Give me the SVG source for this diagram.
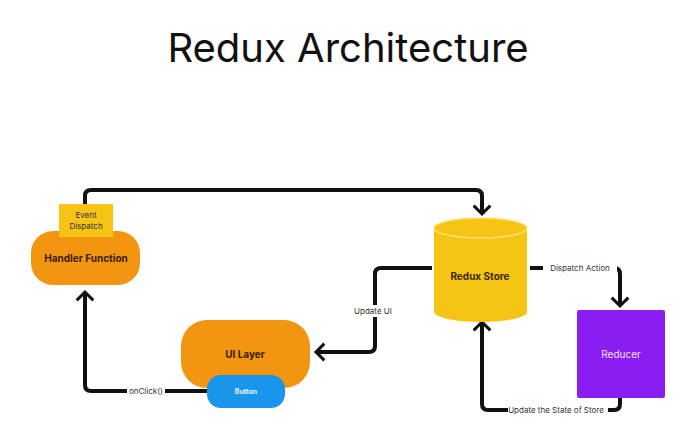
<svg xmlns="http://www.w3.org/2000/svg" width="680" height="438" viewBox="0 0 680 438">
<style>
.t{font-family:Inter,"Liberation Sans",sans-serif}
.c{fill:none;stroke:#111;stroke-width:4;stroke-linejoin:round}
.l{font-family:Inter,"Liberation Sans",sans-serif;font-size:8px;fill:#333;text-anchor:middle}
.b{font-family:Inter,"Liberation Sans",sans-serif;font-weight:bold;text-anchor:middle}
</style>
<defs><marker id="a" viewBox="0 0 12 12" refX="6" refY="6" markerWidth="5" markerHeight="5" orient="auto-start-reverse" markerUnits="strokeWidth"><path d="M1,1 L6,6 L1,11" fill="none" stroke="#111" stroke-width="1.8"/></marker></defs>
<rect width="680" height="438" fill="#fff"/>
<text x="348" y="62" font-size="40" text-anchor="middle" class="t" fill="#111">Redux Architecture</text>
<g id="connectors">
<path class="c" d="M85,206 V196 Q85,190 91,190 H476 Q482,190 482,196 V214" marker-end="url(#a)"/>
<path class="c" d="M530,268 H614 Q620,268 620,274 V306" marker-end="url(#a)"/>
<path class="c" d="M620,398 V404 Q620,410 614,410 H488 Q482,410 482,404 V322" marker-end="url(#a)"/>
<path class="c" d="M432,268 H381 Q375,268 375,274 V346 Q375,352 369,352 H316" marker-end="url(#a)"/>
<path class="c" d="M207,391 H91 Q85,391 85,385 V292" marker-end="url(#a)"/>
<rect x="543" y="262" width="74" height="12" fill="#fff"/><text class="l" x="580" y="271">Dispatch Action</text>
<rect x="508" y="404" width="100" height="12" fill="#fff"/><text class="l" x="556" y="413">Update the State of Store</text>
<rect x="350" y="305" width="48" height="12" fill="#fff"/><text class="l" x="373" y="314">Update UI</text>
<rect x="127" y="385" width="38" height="12" fill="#fff"/><text class="l" x="146" y="394">onClick()</text>
</g>
<g id="handler"><rect x="31" y="231" width="109" height="54" rx="22" fill="#f29511"/><text class="b" x="86" y="262" font-size="10" fill="#3a2000">Handler Function</text></g>
<g id="event"><rect x="59" y="204" width="54" height="33" fill="#f6c414"/><text class="l" x="86" y="218" font-size="7">Event</text><text class="l" x="86" y="229" font-size="7">Dispatch</text></g>
<g id="store"><path d="M434,228 V312 A46.5,10 0 0 0 527,312 V228 Z" fill="#f6c414"/><ellipse cx="480.5" cy="228" rx="46.5" ry="10" fill="#f6c414" stroke="#fbe27a" stroke-width="1.5"/><text class="b" x="480" y="280" font-size="10" fill="#3a2a00">Redux Store</text></g>
<g id="reducer"><rect x="577" y="310" width="88" height="88" rx="2" fill="#8a1ef2"/><text class="t" x="621" y="358" font-size="10" text-anchor="middle" fill="#f3e6ff">Reducer</text></g>
<g id="ui"><rect x="181" y="320" width="129" height="68" rx="26" fill="#f29511"/><text class="b" x="245" y="358" font-size="10" fill="#3a2000">UI Layer</text></g>
<g id="button"><rect x="207" y="375" width="78" height="33" rx="14" fill="#1a95ec"/><text class="b" x="246" y="394" font-size="7" fill="#e6f4ff">Button</text></g>
</svg>
